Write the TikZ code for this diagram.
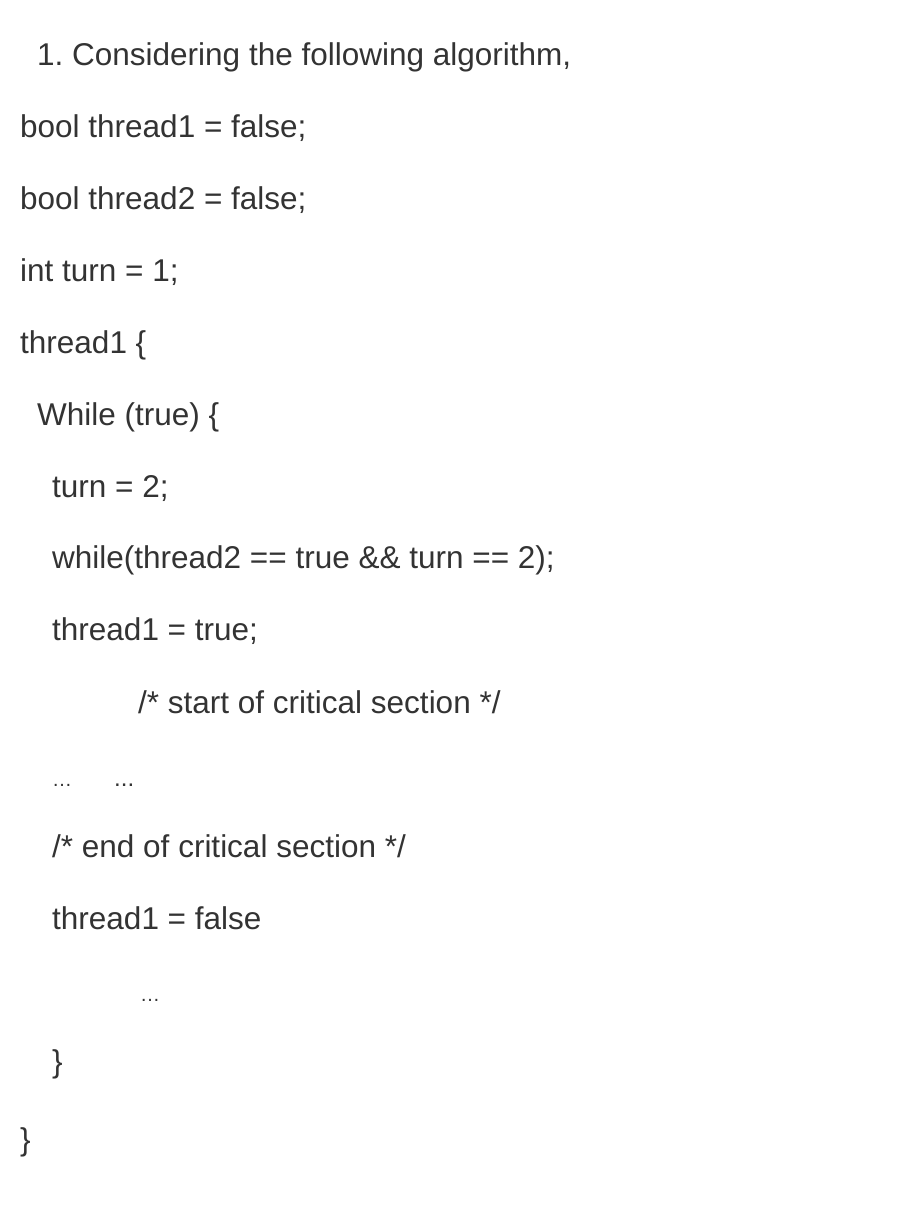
\documentclass[tikz,border=0pt]{standalone}
\usepackage{fontspec}
\setmainfont{Liberation Sans}
\definecolor{txt}{HTML}{333333}
\begin{document}
\begin{tikzpicture}[x=1pt,y=-1pt,every node/.style={anchor=base west,inner sep=0pt,text=txt,font=\fontsize{31.5}{36}\selectfont}]
\useasboundingbox[fill=white] (0,0) rectangle (910,1208);
\node (l1) at (37,65) {1.~Considering the following algorithm,};
\node (l2) at (20,137) {bool thread1 = false;};
\node (l3) at (20,209) {bool thread2 = false;};
\node (l4) at (20,281) {int turn = 1;};
\node (l5) at (20,353) {thread1 \{};
\node (l6) at (37,425) {While (true) \{};
\node (l7) at (52,497) {turn = 2;};
\node (l8) at (52,568) {while(thread2 == true \&\& turn == 2);};
\node (l9) at (52,640) {thread1 = true;};
\node (l10) at (138,713) {/* start of critical section */};
\node (l11a) at (52,786) {\fontsize{20}{20}\selectfont\ldots};
\node (l11b) at (114,786) {\fontsize{24}{24}\selectfont...};
\node (l12) at (52,857) {/* end of critical section */};
\node (l13) at (52,929) {thread1 = false};
\node (l14) at (140,1001) {\fontsize{20}{20}\selectfont\ldots};
\node (l15) at (52,1072) {\}};
\node (l16) at (20,1150) {\}};
\end{tikzpicture}
\end{document}
